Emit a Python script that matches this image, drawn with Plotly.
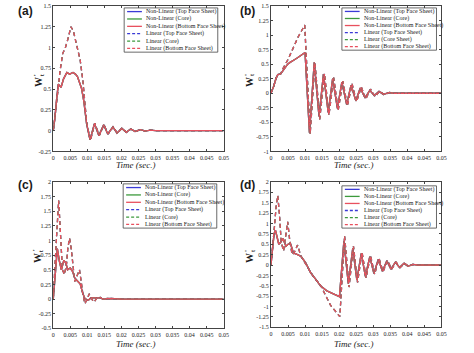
import plotly.graph_objects as go

W, H = 474, 353

# ---------------- data ----------------
time_ticks = [0, 0.005, 0.01, 0.015, 0.02, 0.025, 0.03, 0.035, 0.04, 0.045, 0.05]
time_tick_text = ["0", "0.005", "0.01", "0.015", "0.02", "0.025", "0.03", "0.035", "0.04", "0.045", "0.05"]

names_std = ["Non-Linear (Top Face Sheet)", "Non-Linear (Core)", "Non-Linear (Bottom Face Sheet)",
             "Linear (Top Face Sheet)", "Linear (Core)", "Linear (Bottom Face Sheet)"]
names_b = ["Non-Linear (Top Face Sheet)", "Non-Linear (Core)", "Non-Linear (Bottom Face Sheet)",
           "Linear (Top Face Sheet)", "Linear (Core Sheet)", "Linear (Bottom Face Sheet)"]

# (a)
t_a_nl = [0, 0.0005, 0.001, 0.0015, 0.0023, 0.003, 0.004, 0.0048, 0.0058, 0.0065, 0.0071, 0.0077,
          0.0083, 0.009, 0.0098, 0.0108, 0.0121, 0.0134, 0.0148, 0.016, 0.0175, 0.0187, 0.0201,
          0.0214, 0.0227, 0.024, 0.0255, 0.027, 0.0285, 0.03, 0.035, 0.04, 0.045, 0.05]
w_a_nl = [0, 0.15, 0.38, 0.56, 0.52, 0.62, 0.70, 0.68, 0.70, 0.68, 0.65, 0.59,
          0.51, 0.35, 0.08, -0.11, 0.085, -0.06, 0.07, -0.04, 0.045, -0.03, 0.03,
          -0.02, 0.02, -0.01, 0.012, -0.005, 0.006, 0, 0, 0, 0, 0]
t_a_lin = [0, 0.0005, 0.001, 0.0015, 0.002, 0.0028, 0.0035, 0.0043, 0.0052, 0.0059, 0.0066, 0.0073,
           0.0079, 0.0087, 0.0092, 0.0098, 0.0109, 0.0122, 0.0135, 0.0149, 0.0161, 0.0176, 0.0188,
           0.0202, 0.0215, 0.0228, 0.0241, 0.0256, 0.027, 0.0285, 0.03, 0.035, 0.04, 0.045, 0.05]
w_a_lin = [0, 0.15, 0.35, 0.52, 0.72, 0.93, 0.99, 1.1, 1.25, 1.2, 1.08, 0.98,
           0.85, 0.6, 0.35, 0.1, -0.12, 0.09, -0.06, 0.07, -0.04, 0.045, -0.03,
           0.03, -0.02, 0.02, -0.01, 0.012, -0.005, 0.006, 0, 0, 0, 0, 0]

# (b)
t_b_nl = [0, 0.0008, 0.0015, 0.002, 0.0028, 0.0034, 0.004, 0.0049, 0.0056, 0.0063, 0.007, 0.0078,
          0.0086, 0.0095, 0.01, 0.0113, 0.0127, 0.0141, 0.0154, 0.0168, 0.0181, 0.0195, 0.0208,
          0.0222, 0.0235, 0.0249, 0.0262, 0.0276, 0.029, 0.0303, 0.0317, 0.033, 0.0345, 0.036,
          0.04, 0.045, 0.05]
w_b_nl = [0, 0.12, 0.26, 0.32, 0.33, 0.38, 0.44, 0.5, 0.53, 0.55, 0.58, 0.61,
          0.64, 0.68, 0.70, -0.68, 0.53, -0.40, 0.33, -0.33, 0.25, -0.26, 0.19,
          -0.19, 0.14, -0.13, 0.09, -0.08, 0.05, -0.04, 0.03, -0.02, 0.01, 0,
          0, 0, 0]
t_b_lin = [0, 0.0008, 0.0015, 0.002, 0.0028, 0.0035, 0.005, 0.0065, 0.008, 0.0099, 0.0115, 0.0129,
           0.0143, 0.0157, 0.017, 0.0184, 0.0197, 0.0211, 0.0224, 0.0238, 0.0251, 0.0265, 0.0278,
           0.0292, 0.0306, 0.0319, 0.0333, 0.0347, 0.0362, 0.04, 0.045, 0.05]
w_b_lin = [0, 0.12, 0.26, 0.32, 0.33, 0.42, 0.58, 0.78, 0.97, 1.17, -0.70, 0.53,
           -0.45, 0.34, -0.38, 0.27, -0.30, 0.21, -0.22, 0.16, -0.15, 0.11, -0.10,
           0.07, -0.06, 0.04, -0.03, 0.015, 0, 0, 0, 0]

# (c)
t_c_nl = [0, 0.0004, 0.0008, 0.0012, 0.0018, 0.0024, 0.0031, 0.0037, 0.0042, 0.005, 0.0057, 0.0063,
          0.0071, 0.0079, 0.0086, 0.0092, 0.01, 0.0105, 0.011, 0.0117, 0.0125, 0.0135, 0.015,
          0.017, 0.02, 0.05]
w_c_nl = [0, 0.35, 0.7, 0.86, 0.65, 0.5, 0.66, 0.62, 0.5, 0.53, 0.47, 0.36,
          0.31, 0.26, 0.11, 0.02, -0.02, -0.01, 0.02, 0.02, 0.01, 0.02, 0.0,
          0.01, 0, 0]
t_c_lin = [0, 0.0005, 0.001, 0.0016, 0.0021, 0.0027, 0.0033, 0.0039, 0.0043, 0.0048, 0.0053, 0.0058,
           0.0063, 0.007, 0.0077, 0.0082, 0.0087, 0.0093, 0.01, 0.0106, 0.0113, 0.012, 0.0128,
           0.0135, 0.0145, 0.016, 0.02, 0.05]
w_c_lin = [0, 0.45, 1.1, 1.68, 1.1, 0.5, 0.42, 0.6, 0.88, 1.04, 0.85, 0.55,
           0.3, 0.4, 0.5, 0.3, 0.08, -0.08, 0.0, 0.09, 0.0, -0.05, 0.02,
           0.04, 0.0, 0.01, 0, 0]

# (d)
t_d_nl = [0, 0.0005, 0.0009, 0.0013, 0.0018, 0.0023, 0.0029, 0.0035, 0.0044, 0.005, 0.0057, 0.0066,
          0.0078, 0.0088, 0.0102, 0.0116, 0.0131, 0.0145, 0.0164, 0.0185, 0.0201, 0.0214, 0.0227,
          0.024, 0.0252, 0.0265, 0.0277, 0.029, 0.0302, 0.0315, 0.0327, 0.034, 0.0352, 0.0365,
          0.0377, 0.039, 0.0402, 0.0415, 0.043, 0.05]
w_d_nl = [0, 0.4, 0.75, 0.84, 0.7, 0.5, 0.55, 0.64, 0.45, 0.5, 0.52, 0.29,
          0.25, 0.21, 0.05, -0.18, -0.34, -0.5, -0.62, -0.7, -0.76, 0.57, -0.45,
          0.40, -0.36, 0.28, -0.27, 0.2, -0.2, 0.14, -0.15, 0.1, -0.1, 0.07,
          -0.06, 0.04, -0.03, 0.015, 0, 0]
t_d_lin = [0, 0.0005, 0.001, 0.0015, 0.002, 0.0025, 0.003, 0.0037, 0.0043, 0.0049, 0.0055, 0.0062,
           0.0068, 0.0078, 0.0088, 0.0107, 0.0126, 0.0145, 0.0175, 0.0202, 0.0216, 0.0229, 0.0242,
           0.0254, 0.0267, 0.0279, 0.0292, 0.0304, 0.0317, 0.0329, 0.0342, 0.0354, 0.0367, 0.0379,
           0.0392, 0.0404, 0.0417, 0.043, 0.05]
w_d_lin = [0, 0.4, 0.9, 1.4, 1.67, 1.2, 0.55, 0.34, 0.75, 1.04, 0.6, 0.25,
           0.3, 0.48, 0.21, -0.03, -0.3, -0.48, -0.97, -1.24, 0.70, -0.53, 0.45,
           -0.42, 0.32, -0.31, 0.23, -0.22, 0.16, -0.16, 0.11, -0.1, 0.07, -0.06,
           0.04, -0.03, 0.015, 0, 0]

yticks_a = [-0.25, 0, 0.25, 0.5, 0.75, 1, 1.25, 1.5]
yticks_b = [-1, -0.75, -0.5, -0.25, 0, 0.25, 0.5, 0.75, 1, 1.25, 1.5]
yticks_c = [-0.5, -0.25, 0, 0.25, 0.5, 0.75, 1, 1.25, 1.5, 1.75, 2]
yticks_d = [-1.5, -1.25, -1, -0.75, -0.5, -0.25, 0, 0.25, 0.5, 0.75, 1, 1.25, 1.5, 1.75, 2]

# ---------------- style ----------------
colors = ["#3b3bd6", "#3c9a3c", "#e8505e"]
SERIF = "Liberation Serif"

panels = [
    dict(label="(a)", tnl=t_a_nl, wnl=w_a_nl, tl=t_a_lin, wl=w_a_lin, yt=yticks_a, names=names_std,
         box=(52, 3, 225, 151), leg=(124, 5, 219, 50), lab=(24, 8), ytitle=(37, 80), xt=165),
    dict(label="(b)", tnl=t_b_nl, wnl=w_b_nl, tl=t_b_lin, wl=w_b_lin, yt=yticks_b, names=names_b,
         box=(273, 3, 446, 151), leg=(345, 5, 441, 48), lab=(249, 8), ytitle=(251, 80), xt=165),
    dict(label="(c)", tnl=t_c_nl, wnl=w_c_nl, tl=t_c_lin, wl=w_c_lin, yt=yticks_c, names=names_std,
         box=(52, 182, 225, 331), leg=(123, 184, 218, 229), lab=(24, 185), ytitle=(36, 259), xt=346.5),
    dict(label="(d)", tnl=t_d_nl, wnl=w_d_nl, tl=t_d_lin, wl=w_d_lin, yt=yticks_d, names=names_std,
         box=(273, 182, 446, 330), leg=(345, 186, 441, 229), lab=(249, 185), ytitle=(251, 259), xt=346.5),
]


def px(x):
    return x / W


def py(y):
    return 1 - y / H


fig = go.Figure()
shapes = []
annotations = []
layout_axes = {}


def note(text, x, y, size, family=SERIF, angle=0, anchor="center"):
    annotations.append(dict(text=text, x=px(x), y=py(y), xref="paper", yref="paper",
                            showarrow=False, xanchor=anchor, yanchor="middle", textangle=angle,
                            font=dict(family=family, size=size, color="#1a1a1a")))


for i, p in enumerate(panels):
    k = "" if i == 0 else str(i + 1)
    xa, ya = "x" + k, "y" + k
    for j in range(3):
        fig.add_trace(go.Scatter(x=p["tnl"], y=p["wnl"], mode="lines", name=p["names"][j],
                                 xaxis=xa, yaxis=ya, showlegend=False,
                                 line=dict(color=colors[j], width=1.4)))
    for j in range(3):
        fig.add_trace(go.Scatter(x=p["tl"], y=p["wl"], mode="lines", name=p["names"][3 + j],
                                 xaxis=xa, yaxis=ya, showlegend=False,
                                 line=dict(color=colors[j], width=1.3, dash="4px,3px")))
    x0, y0, x1, y1 = p["box"]
    yt = p["yt"]
    axstyle = dict(showline=True, linecolor="#444", linewidth=1, mirror="ticks", ticks="inside",
                   ticklen=2, tickcolor="#444", showgrid=False, zeroline=False,
                   tickfont=dict(family=SERIF, size=6, color="#222"))
    layout_axes["xaxis" + k] = dict(domain=[px(x0), px(x1)], anchor=ya, range=[0, 0.05],
                                    tickvals=time_ticks, ticktext=time_tick_text, **axstyle)
    layout_axes["yaxis" + k] = dict(domain=[py(y1), py(y0)], anchor=xa, range=[yt[0], yt[-1]],
                                    tickvals=yt, ticktext=[f"{v:g}" for v in yt], **axstyle)
    # x title
    note("<i>Time (sec.)</i>", (x0 + x1) / 2 - 2, p["xt"], 9)
    # y title  W' with subscript t (rotated)
    yx, yy = p["ytitle"]
    note("<b>W</b>", yx, yy, 10, angle=-90)
    note("<b>'</b>", yx - 3, yy - 7, 7, angle=-90)
    note("<b>t</b>", yx + 3, yy - 7, 6, angle=-90)
    # panel label
    note("<b>" + p["label"] + "</b>", p["lab"][0], p["lab"][1], 12, family="Liberation Sans")
    # legend box
    lx0, ly0, lx1, ly1 = p["leg"]
    shapes.append(dict(type="rect", xref="paper", yref="paper", x0=px(lx0), x1=px(lx1),
                       y0=py(ly1), y1=py(ly0), line=dict(color="#444", width=0.8),
                       fillcolor="white", layer="above"))
    step = (ly1 - ly0) / 6
    for j in range(6):
        yc = ly0 + step * (j + 0.5)
        shapes.append(dict(type="line", xref="paper", yref="paper", x0=px(lx0 + 3), x1=px(lx0 + 18),
                           y0=py(yc), y1=py(yc), layer="above",
                           line=dict(color=colors[j % 3], width=1.3,
                                     dash="solid" if j < 3 else "3px,2px")))
        note(p["names"][j], lx0 + 20, yc, 6, anchor="left")

fig.update_layout(width=W, height=H, margin=dict(l=0, r=0, t=0, b=0),
                  paper_bgcolor="white", plot_bgcolor="white", showlegend=False,
                  shapes=shapes, annotations=annotations, **layout_axes)

fig.write_html("out.html")
